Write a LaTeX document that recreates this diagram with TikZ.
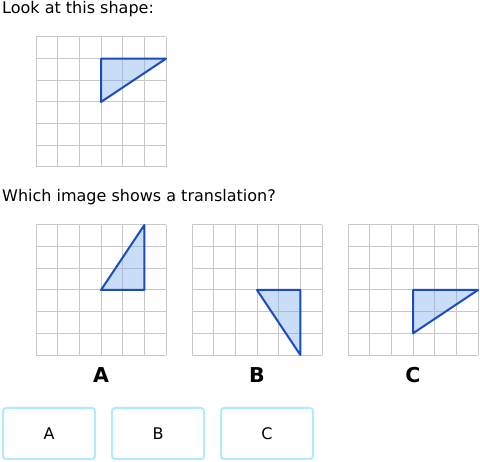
\documentclass[tikz,border=0pt]{standalone}
\usepackage{fontspec}
\setmainfont{DejaVu Sans}
\definecolor{gridgray}{RGB}{200,200,200}
\definecolor{triblue}{RGB}{26,76,192}
\definecolor{trifill}{RGB}{120,170,235}
\definecolor{btnborder}{RGB}{176,234,255}
\tikzset{
  gridline/.style={draw=gridgray, line width=1pt},
  tri/.style={draw=triblue, line width=2pt, line join=round, fill=trifill, fill opacity=0.4},
  btn/.style={draw=btnborder, line width=2pt, rounded corners=3pt},
  txt/.style={font=\fontsize{16}{19}\selectfont, inner sep=0pt, anchor=base west},
  lbl/.style={font=\fontsize{20.5}{24}\selectfont\bfseries, inner sep=0pt, anchor=base},
  btntxt/.style={font=\fontsize{16}{19}\selectfont, inner sep=0pt, anchor=base},
}
\newcommand{\mygrid}[2]{%
  \begin{scope}[shift={(#1,#2)}]
    \foreach \i in {0,...,6} {
      \draw[gridline] (\i*21.667,0) -- (\i*21.667,130);
      \draw[gridline] (0,\i*21.667) -- (130,\i*21.667);
    }
  \end{scope}}
\begin{document}
\begin{tikzpicture}[x=1pt, y=-1pt]
\useasboundingbox (0,0) rectangle (480,462);
\fill[white] (0,0) rectangle (480,462);
\node[txt] (q1) at (2,14) {Look at this shape:};
% main shape
\mygrid{36}{37}
\begin{scope}[shift={(36,37)}]
  \draw[tri] (3*21.667,1*21.667) -- (6*21.667,1*21.667) -- (3*21.667,3*21.667) -- cycle;
\end{scope}
\node[txt] (q2) at (2,201.5) {Which image shows a translation?};
% option A
\mygrid{36}{225}
\begin{scope}[shift={(36,225)}]
  \draw[tri] (3*21.667,3*21.667) -- (5*21.667,3*21.667) -- (5*21.667,0) -- cycle;
\end{scope}
% option B
\mygrid{192}{225}
\begin{scope}[shift={(192,225)}]
  \draw[tri] (3*21.667,3*21.667) -- (5*21.667,3*21.667) -- (5*21.667,6*21.667) -- cycle;
\end{scope}
% option C
\mygrid{348}{225}
\begin{scope}[shift={(348,225)}]
  \draw[tri] (3*21.667,3*21.667) -- (6*21.667,3*21.667) -- (3*21.667,5*21.667) -- cycle;
\end{scope}
\node[lbl] (la) at (101,382.5) {A};
\node[lbl] (lb) at (257,382.5) {B};
\node[lbl] (lc) at (413,382.5) {C};
% answer buttons
\draw[btn] (3,408) rectangle (95,459);
\draw[btn] (112,408) rectangle (204,459);
\draw[btn] (221,408) rectangle (313,459);
\node[btntxt] (ba) at (49,440) {A};
\node[btntxt] (bb) at (158,440) {B};
\node[btntxt] (bc) at (267,440) {C};
\end{tikzpicture}
\end{document}
